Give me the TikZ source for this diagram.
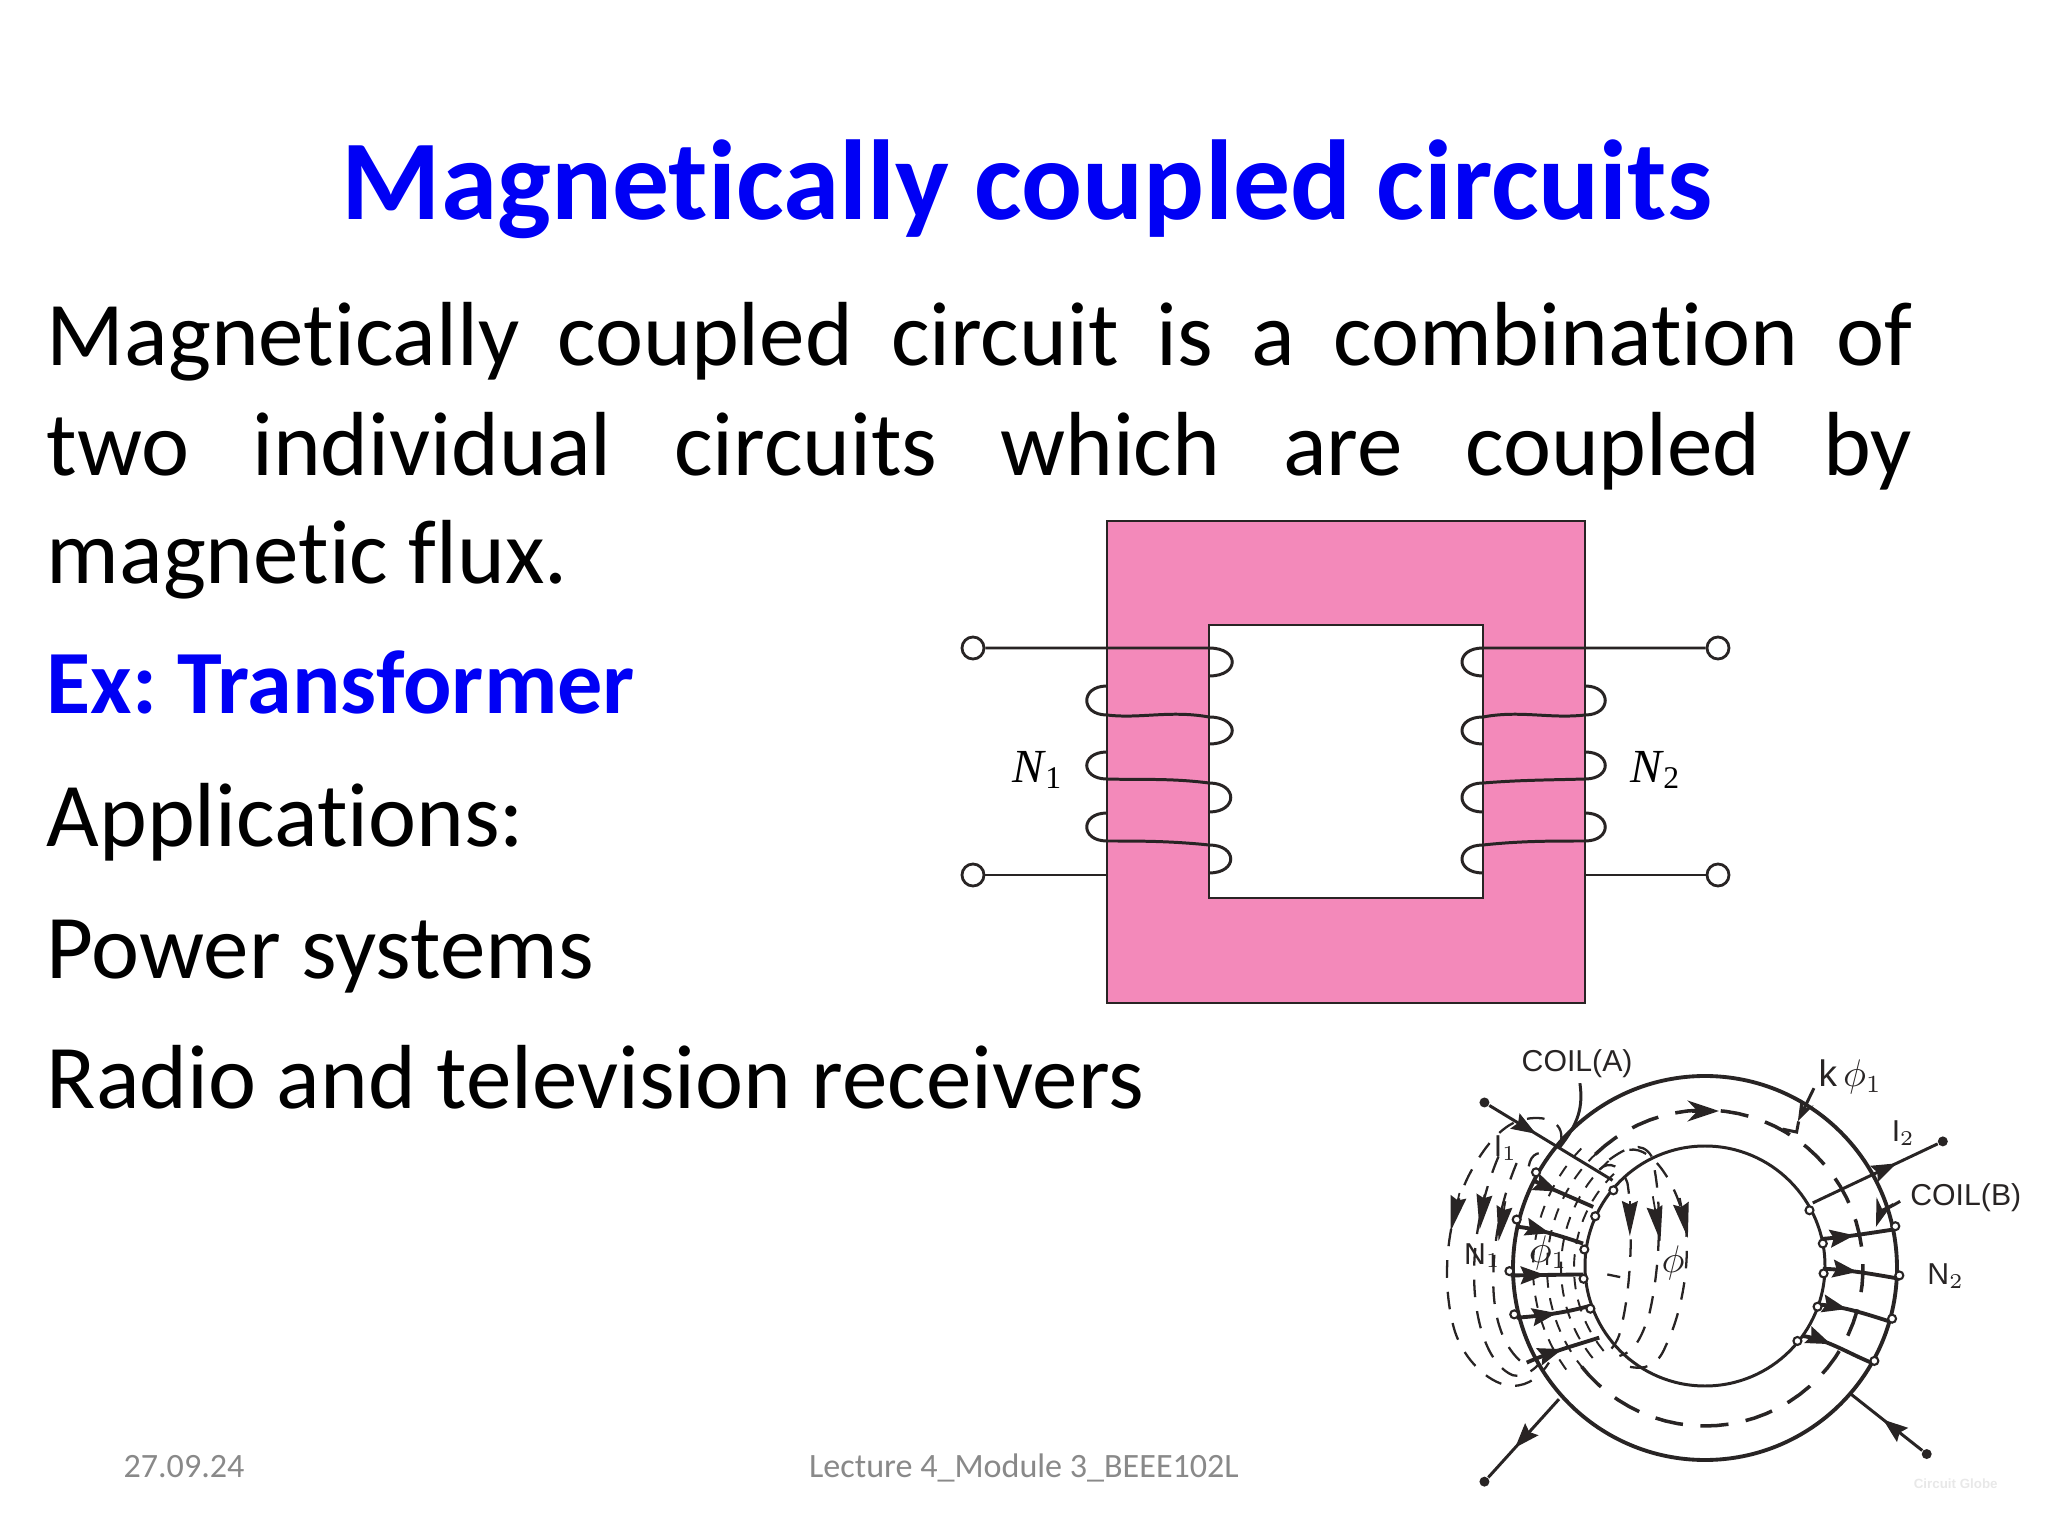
\documentclass[tikz,border=0pt]{standalone}
\usepackage{fontspec}
\setmainfont[Ligatures=NoCommon]{Carlito}
\newfontfamily\drawfont{Liberation Sans}
\newfontfamily\coilfont{Liberation Serif}
\usetikzlibrary{arrows.meta,decorations.markings}
\definecolor{slideblue}{RGB}{0,0,245}
\definecolor{corepink}{RGB}{243,137,186}
\definecolor{footgray}{RGB}{137,137,137}
\definecolor{inkdark}{RGB}{40,36,36}
\newcommand{\coilname}[1]{{\coilfont\itshape N\kern0.02em\raisebox{-0.3ex}{\upshape\fontsize{9}{11}\selectfont #1}}}
\tikzset{
  bodyline/.style={anchor=base west,inner sep=0pt,font=\fontsize{25.9}{30}\selectfont},
  footline/.style={anchor=base,inner sep=0pt,text=footgray,font=\fontsize{9.7}{12}\selectfont},
  wire/.style={draw=inkdark,line width=0.85pt},
  thickwire/.style={draw=inkdark,line width=1.1pt},
  terminal/.style={circle,draw=inkdark,fill=white,line width=0.8pt,inner sep=0pt,minimum size=0.22cm},
  enddot/.style={circle,fill=inkdark,inner sep=0pt,minimum size=0.1cm},
  eye/.style={draw=inkdark,fill=white,line width=0.6pt},
  fluxline/.style={draw=inkdark,line width=0.65pt,dash pattern=on 5pt off 4pt},
  coreline/.style={draw=inkdark,line width=0.55pt,dash pattern=on 3.5pt off 3pt},
  meanline/.style={draw=inkdark,line width=1pt,dash pattern=on 8pt off 5pt},
  tipat/.style={postaction={decorate,decoration={markings,mark=at position #1 with {\arrow{Stealth[length=7pt,width=5pt,inset=1pt]}}}}},
  fluxtip/.style={draw=inkdark,line width=0.5pt,-{Stealth[length=10pt,width=4.5pt,inset=1pt]}},
  toolabel/.style={inner sep=0pt,text=inkdark,font=\drawfont\fontsize{8.6}{10}\selectfont}
}
\begin{document}
\begin{tikzpicture}[y=-1cm]
\useasboundingbox (0,0) rectangle (20.48,15.36);
% slide text
\node[anchor=base,inner sep=0pt,text=slideblue,font=\fontsize{32.35}{40}\selectfont\bfseries] (title) at (10.27,2.20) {Magnetically coupled circuits};
\node[bodyline] (lineA) at (0.46,3.66) {\makebox[18.66cm][s]{Magnetically coupled circuit is a combination of}};
\node[bodyline] (lineB) at (0.46,4.76) {\makebox[18.66cm][s]{two individual circuits which are coupled by}};
\node[bodyline] (lineC) at (0.46,5.84) {magnetic flux.};
\node[bodyline,text=slideblue,font=\fontsize{25.7}{30}\selectfont\bfseries] (extext) at (0.46,7.14) {\frenchspacing Ex: Transformer};
\node[bodyline] (apptext) at (0.46,8.46) {Applications:};
\node[bodyline] (powertext) at (0.46,9.78) {Power systems};
\node[bodyline] (radiotext) at (0.46,11.08) {Radio and television receivers};
\node[footline] (datetext) at (1.84,14.77) {27.09.24};
\node[footline] (lecturetext) at (10.24,14.77) {Lecture 4\_Module 3\_BEEE102L};

% transformer core
\filldraw[fill=corepink,draw=inkdark,line width=0.75pt] (11.07,5.21) rectangle (15.85,10.03);
\filldraw[fill=white,draw=inkdark,line width=0.75pt] (12.09,6.25) rectangle (14.83,8.98);
\node[terminal] (termA) at (9.73,6.48) {};
\node[terminal] (termB) at (9.73,8.75) {};
\node[terminal] (termC) at (17.18,6.48) {};
\node[terminal] (termD) at (17.18,8.75) {};
% primary
\draw[wire] (termA) -- (12.09,6.48) .. controls (12.40,6.48) and (12.40,6.76) .. (12.09,6.76);
\draw[wire] (11.07,6.86) .. controls (10.80,6.86) and (10.80,7.15) .. (11.07,7.15) .. controls (11.40,7.19) and (11.70,7.10) .. (12.09,7.17) .. controls (12.40,7.17) and (12.40,7.44) .. (12.09,7.44);
\draw[wire] (11.07,7.52) .. controls (10.80,7.52) and (10.80,7.79) .. (11.07,7.79) .. controls (11.40,7.80) and (11.70,7.78) .. (12.09,7.83) .. controls (12.38,7.83) and (12.38,8.12) .. (12.09,8.12);
\draw[wire] (11.07,8.13) .. controls (10.80,8.13) and (10.80,8.41) .. (11.07,8.41) .. controls (11.40,8.41) and (11.70,8.41) .. (12.09,8.45) .. controls (12.38,8.45) and (12.38,8.73) .. (12.09,8.73);
\draw[wire] (termB) -- (11.07,8.75);
% secondary
\draw[wire] (termC) -- (14.83,6.48) .. controls (14.55,6.48) and (14.55,6.76) .. (14.83,6.76);
\draw[wire] (15.85,6.86) .. controls (16.12,6.86) and (16.12,7.15) .. (15.85,7.15) .. controls (15.50,7.19) and (15.20,7.10) .. (14.83,7.17) .. controls (14.55,7.17) and (14.55,7.44) .. (14.83,7.44);
\draw[wire] (15.85,7.52) .. controls (16.12,7.52) and (16.12,7.79) .. (15.85,7.79) .. controls (15.50,7.80) and (15.20,7.80) .. (14.83,7.83) .. controls (14.55,7.83) and (14.55,8.12) .. (14.83,8.12);
\draw[wire] (15.85,8.13) .. controls (16.12,8.13) and (16.12,8.41) .. (15.85,8.41) .. controls (15.50,8.41) and (15.20,8.41) .. (14.83,8.45) .. controls (14.55,8.45) and (14.55,8.73) .. (14.83,8.73);
\draw[wire] (termD) -- (15.85,8.75);
\node[inner sep=0pt,font=\fontsize{13.5}{16}\selectfont] (nameA) at (10.37,7.70) {\coilname{1}};
\node[inner sep=0pt,font=\fontsize{13.5}{16}\selectfont] (nameB) at (16.55,7.70) {\coilname{2}};

% toroid
\draw[thickwire] (17.05,12.68) circle (1.92cm);
\draw[wire] (17.05,12.66) circle (1.20cm);
\draw[meanline] plot[domain=134:-142,samples=60] ({17.05+1.58*cos(\x)},{12.68-1.58*sin(\x)});
\draw[meanline,-{Stealth[length=9pt,width=6pt]}] (16.92,11.11) -- (17.19,11.11);
% flux inside coil A
\draw[coreline] plot[domain=134:222,samples=30] ({17.05+1.31*cos(\x)},{12.68-1.31*sin(\x)});
\draw[coreline] plot[domain=132:220,samples=30] ({17.05+1.44*cos(\x)},{12.68-1.44*sin(\x)});
\draw[coreline] plot[domain=133:219,samples=30] ({17.05+1.58*cos(\x)},{12.68-1.58*sin(\x)});
\draw[coreline] plot[domain=136:218,samples=30] ({17.05+1.72*cos(\x)},{12.68-1.72*sin(\x)});

\begin{scope}[shift={(14.20,10.20)},x=0.004026cm,y=-0.003333cm]
% dashed flux loops, left of coil A
\draw[fluxline] (350,365) .. controls (360,300) and (300,280) .. (240,305) .. controls (190,330) and (150,400) .. (120,470) .. controls (60,620) and (55,800) .. (85,930) .. controls (110,1030) and (180,1100) .. (230,1100) .. controls (270,1100) and (300,1070) .. (320,1030);
\draw[fluxline] (195,410) .. controls (150,540) and (130,680) .. (135,800) .. controls (140,930) and (175,1040) .. (230,1068) .. controls (255,1075) and (280,1055) .. (295,1035);
\draw[fluxline] (240,430) .. controls (205,530) and (180,660) .. (182,800) .. controls (185,920) and (215,1000) .. (265,1040);
\draw[fluxline] (270,440) .. controls (275,400) and (300,390) .. (320,410);
\draw[fluxtip] (98,520) -- (76,635);
\draw[fluxtip] (160,525) -- (148,630);
\draw[fluxtip] (212,545) -- (195,665);
% dashed flux loops, right of coil A
\draw[fluxline] (445,450) .. controls (470,420) and (500,440) .. (515,490) .. controls (530,600) and (525,800) .. (500,920) .. controls (495,960) and (480,985) .. (465,1000);
\draw[fluxline] (470,420) .. controls (510,385) and (550,360) .. (575,410) .. controls (600,520) and (600,720) .. (570,880) .. controls (550,960) and (530,1000) .. (495,1010);
\draw[fluxline] (520,390) .. controls (580,380) and (640,500) .. (660,620) .. controls (670,740) and (650,880) .. (610,980) .. controls (590,1040) and (560,1055) .. (510,1040);
\draw[fluxline] (465,765) -- (497,773);
\draw[fluxtip] (521,545) -- (521,650);
\draw[fluxtip] (578,530) -- (597,665);
\draw[fluxtip] (645,535) -- (665,655);
% coil A
\node[enddot] (dotA) at (160,248) {};
\node[enddot] (dotB) at (160,1388) {};
\draw[wire,tipat=0.38] (dotA) -- (478,482);
\draw[wire,tipat=0.62] (345,1140) -- (dotB);
\draw[thickwire,tipat=0.42] (280,482) .. controls (330,510) and (380,535) .. (430,562);
\draw[thickwire,tipat=0.48] (245,622) .. controls (300,630) and (350,650) .. (405,672);
\draw[thickwire,tipat=0.48] (225,768) -- (405,765);
\draw[thickwire,tipat=0.55] (240,895) .. controls (300,890) and (360,880) .. (420,860);
\draw[thickwire,tipat=0.5] (265,1030) .. controls (320,1000) and (380,980) .. (445,955);
\filldraw[eye] (480,512) circle (0.04cm);
\filldraw[eye] (288,458) circle (0.04cm);
\filldraw[eye] (435,590) circle (0.04cm);
\filldraw[eye] (240,600) circle (0.04cm);
\filldraw[eye] (408,690) circle (0.04cm);
\filldraw[eye] (222,755) circle (0.04cm);
\filldraw[eye] (406,778) circle (0.04cm);
\filldraw[eye] (234,885) circle (0.04cm);
\filldraw[eye] (423,868) circle (0.04cm);
% coil B
\node[enddot] (dotC) at (1298,365) {};
\node[enddot] (dotD) at (1258,1305) {};
\draw[wire,tipat=0.67] (975,550) -- (dotC);
\draw[wire,tipat=0.55] (dotD) -- (1070,1125);
\draw[thickwire,tipat=0.45] (1000,658) .. controls (1060,652) and (1120,640) .. (1175,630);
\draw[thickwire,tipat=0.45] (1000,748) .. controls (1060,750) and (1130,765) .. (1190,778);
\draw[thickwire,tipat=0.4] (985,855) .. controls (1050,860) and (1110,885) .. (1170,908);
\draw[thickwire,tipat=0.4] (950,950) .. controls (1010,960) and (1060,1000) .. (1120,1030);
\filldraw[eye] (967,572) circle (0.04cm);
\filldraw[eye] (1180,620) circle (0.04cm);
\filldraw[eye] (1000,672) circle (0.04cm);
\filldraw[eye] (1002,762) circle (0.04cm);
\filldraw[eye] (1190,768) circle (0.04cm);
\filldraw[eye] (987,862) circle (0.04cm);
\filldraw[eye] (1172,898) circle (0.04cm);
\filldraw[eye] (937,965) circle (0.04cm);
\filldraw[eye] (1128,1025) circle (0.04cm);
% labels and leaders
\node[toolabel] (coilA) at (390,130) {COIL(A)};
\node[toolabel] (coilB) at (1355,535) {COIL(B)};
\node[toolabel] (nameC) at (155,708) {N$_1$};
\node[toolabel] (nameD) at (1305,770) {N$_2$};
\node[toolabel] (currA) at (212,385) {I$_1$};
\node[toolabel] (currB) at (1200,340) {I$_2$};
\node[toolabel,font=\drawfont\fontsize{10.5}{12}\selectfont] (phiA) at (318,700) {$\phi_1$};
\node[toolabel,font=\drawfont\fontsize{10.5}{12}\selectfont] (phiB) at (628,730) {$\phi$};
\node[toolabel,font=\drawfont\fontsize{10.5}{12}\selectfont] (phiC) at (1068,172) {k\,$\phi_1$};
\node[toolabel,text=black!9,font=\drawfont\bfseries\fontsize{3.8}{5}\selectfont] (globe) at (1330,1393) {Circuit Globe};
\draw[wire] (397,190) .. controls (405,260) and (395,310) .. (345,385);
\draw[wire,-{Stealth[length=6pt,width=4pt]}] (978,205) -- (938,305);
\draw[wire] (900,328) -- (935,337) -- (940,305);
\draw[wire,-{Stealth[length=8pt,width=5pt]}] (1192,545) .. controls (1165,565) and (1145,575) .. (1132,622);
\end{scope}
\end{tikzpicture}
\end{document}
